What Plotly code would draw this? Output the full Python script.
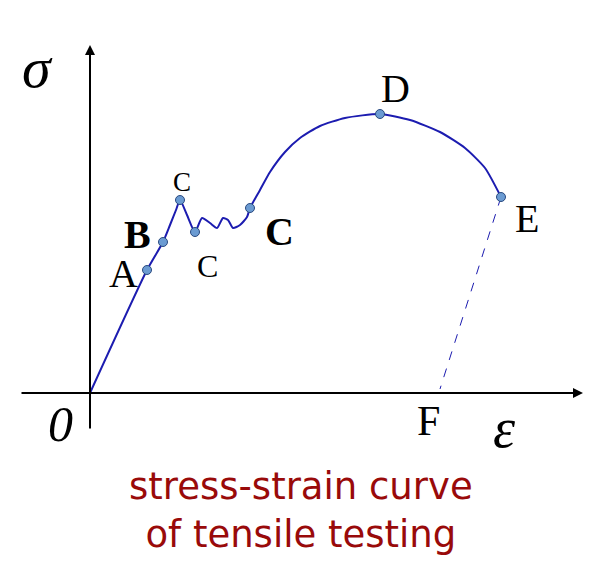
"""
Stress-strain curve of tensile testing
"""
import plotly.graph_objects as go

LINE_BLUE = "#1c1cb0"
DOT_FILL = "#6b9bd2"
DOT_EDGE = "#2a4a80"
CAPTION_RED = "#990a0a"
SERIF = "Liberation Serif"
SANS = "DejaVu Sans, Noto Sans, sans-serif"

# curve (strain, stress) in drawing units, origin at 0
strain = [0, 57, 73, 80, 86, 90, 97, 105, 112, 120, 127, 133, 138, 143, 150, 157, 160,
          170, 180, 195, 210, 230, 255, 290, 320, 350, 375, 395, 411]
stress = [0, 123, 151, 168, 183, 193, 178, 161, 175, 170, 165, 175, 173, 165, 168, 176, 185,
          203, 221, 241, 255, 267, 275, 279, 273, 261, 245, 225, 196]

# marked points
pt_strain = [57, 73, 90, 105, 160, 290, 411]
pt_stress = [123, 151, 193, 161, 185, 279, 196]

# unloading line E -> F
unload_strain = [411, 350]
unload_stress = [196, 4]

# labels: text, x, y, size, bold
labels = [
    ("A", 33, 120, 40, False),
    ("B", 47, 159, 40, True),
    ("C", 92, 211, 27, False),
    ("C", 117, 127, 32, False),
    ("C", 189, 162, 40, True),
    ("D", 305, 305, 40, False),
    ("E", 437, 175, 40, False),
    ("F", 338, -28, 42, False),
]

caption = ["stress-strain curve", "of tensile testing"]

fig = go.Figure()
fig.add_trace(go.Scatter(
    x=unload_strain, y=unload_stress, mode="lines",
    line={"color": LINE_BLUE, "width": 1, "dash": "dash"},
))
fig.add_trace(go.Scatter(
    x=strain, y=stress, mode="lines",
    line={"color": LINE_BLUE, "width": 2, "shape": "spline", "smoothing": 0.6},
))
fig.add_trace(go.Scatter(
    x=pt_strain, y=pt_stress, mode="markers",
    marker={"color": DOT_FILL, "size": 9, "line": {"color": DOT_EDGE, "width": 1}},
))

# axes with arrows
fig.add_annotation(x=0, y=348, ax=0, ay=-37, xref="x", yref="y", axref="x", ayref="y",
                   text="", showarrow=True, arrowhead=2, arrowsize=1, arrowwidth=2,
                   arrowcolor="black")
fig.add_annotation(x=493, y=0, ax=-70, ay=0, xref="x", yref="y", axref="x", ayref="y",
                   text="", showarrow=True, arrowhead=2, arrowsize=1, arrowwidth=2,
                   arrowcolor="black")

for txt, x, y, size, bold in labels:
    fig.add_annotation(x=x, y=y, text=f"<b>{txt}</b>" if bold else txt, showarrow=False,
                       font={"family": SERIF, "size": size, "color": "black"})

fig.add_annotation(x=-53, y=326, text="<i>σ</i>", showarrow=False,
                   font={"family": SERIF, "size": 58, "color": "black"})
fig.add_annotation(x=-30, y=-31, text="<i>0</i>", showarrow=False,
                   font={"family": SERIF, "size": 50, "color": "black"})
fig.add_annotation(x=414, y=-35, text="<i>ε</i>", showarrow=False,
                   font={"family": SERIF, "size": 56, "color": "black"})

fig.add_annotation(x=211, y=-117, text="<br>".join(caption), showarrow=False,
                   font={"family": SANS, "size": 37, "color": CAPTION_RED})

# ranges shifted by the page's 8px body margin so the origin lands at (90, 393)
fig.update_layout(
    width=600, height=575,
    plot_bgcolor="white", paper_bgcolor="white",
    margin={"l": 0, "r": 0, "t": 0, "b": 0},
    showlegend=False,
    xaxis={"range": [-82, 518], "visible": False, "fixedrange": True},
    yaxis={"range": [-190, 385], "visible": False, "fixedrange": True},
)
fig.write_html("out.html")
